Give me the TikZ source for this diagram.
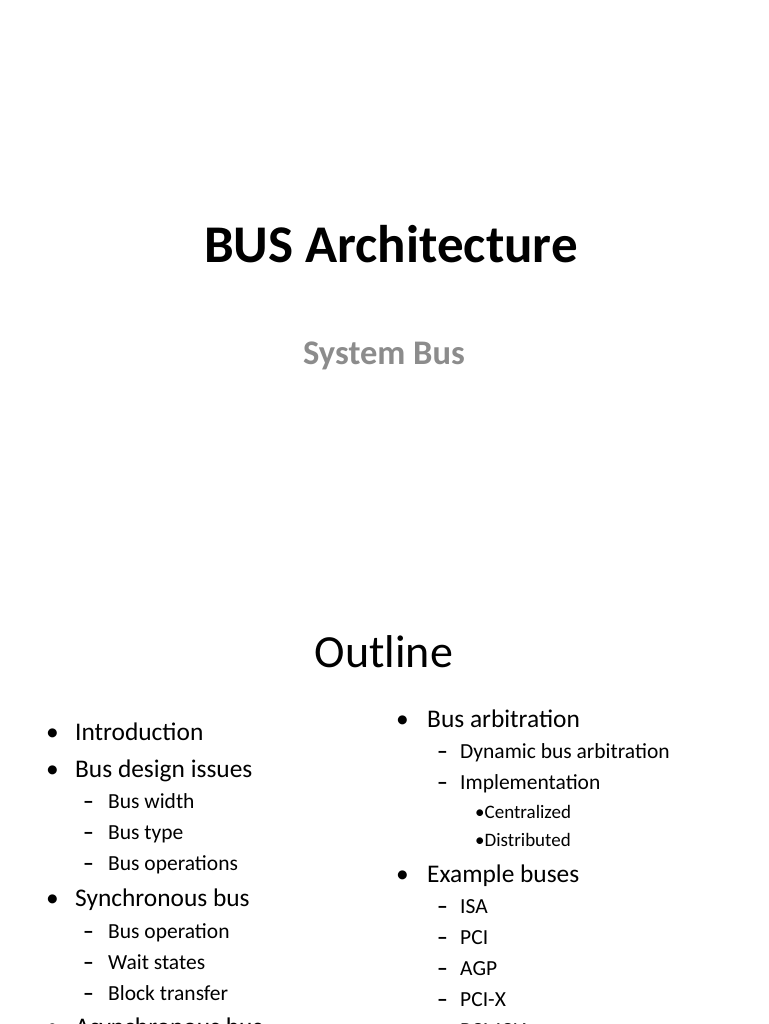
\documentclass[tikz,border=0pt]{standalone}
\usepackage{fontspec}
\setmainfont{Carlito}
\begin{document}
\begin{tikzpicture}[x=1pt,y=-1pt,
 lone/.style={anchor=base west,inner sep=0pt,font=\fontsize{25.4}{28}\selectfont},
 ltwo/.style={anchor=base west,inner sep=0pt,font=\fontsize{21.5}{24}\selectfont},
 lthree/.style={anchor=base west,inner sep=0pt,font=\fontsize{19}{22}\selectfont}]
\clip (0,0) rectangle (768,1024);
\useasboundingbox (0,0) rectangle (768,1024);
\fill[white] (0,0) rectangle (768,1024);
\node[anchor=base,inner sep=0pt,font=\fontsize{53}{58}\selectfont\bfseries] (title) at (391,262) {BUS Architecture};
\node[anchor=base,inner sep=0pt,font=\fontsize{34.5}{38}\selectfont\bfseries,text=black!45] (sub) at (384,364) {System Bus};
\node[anchor=base,inner sep=0pt,font=\fontsize{46}{50}\selectfont] (outline) at (384,667) {Outline};
% left column
\foreach \t/\y [count=\i] in {Introduction/740,Bus design issues/777,Synchronous bus/906,Asynchronous bus/1035}
 {\node[lone] (l\i) at (46,\y) {\makebox[29pt][l]{•}\t};}
\foreach \t/\y [count=\i] in {Bus width/808,Bus type/839,Bus operations/870,Bus operation/938,Wait states/969,Block transfer/1000}
 {\node[ltwo] (s\i) at (83,\y) {\makebox[25pt][l]{\textbf{–}}\t};}
% right column
\foreach \t/\y [count=\i] in {Bus arbitration/727,Example buses/882}
 {\node[lone] (r\i) at (396,\y) {\makebox[31pt][l]{•}\t};}
\foreach \t/\y [count=\i] in {Dynamic bus arbitration/758,Implementation/789,ISA/913,PCI/944,AGP/975,PCI-X/1006,PCMCIA/1037}
 {\node[ltwo] (rs\i) at (437,\y) {\makebox[23pt][l]{\textbf{–}}\t};}
\foreach \t/\y [count=\i] in {Centralized/818,Distributed/846}
 {\node[lthree] (rt\i) at (475,\y) {•\t};}
\end{tikzpicture}
\end{document}
